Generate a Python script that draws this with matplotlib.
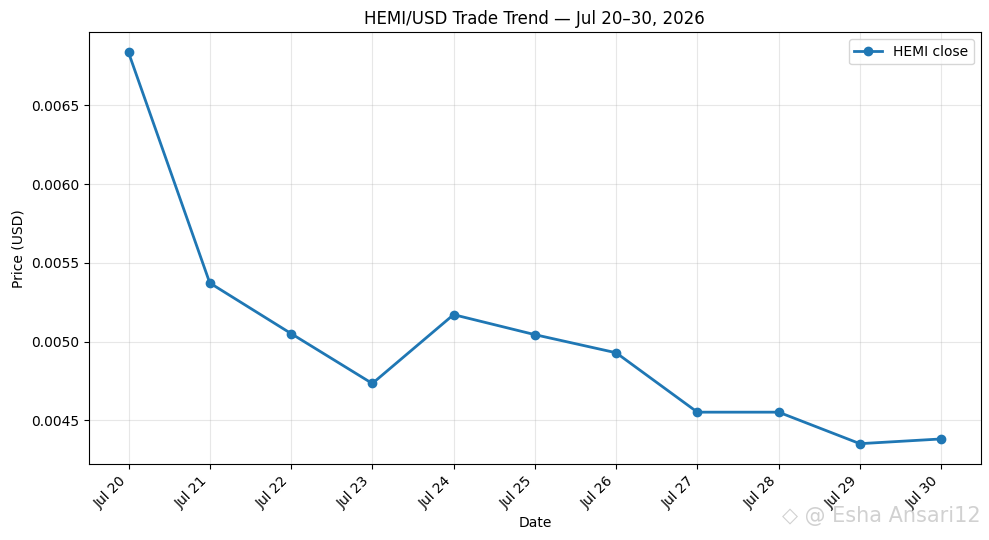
import matplotlib
matplotlib.use("Agg")
import matplotlib.pyplot as plt

# data
dates = ["Jul 20", "Jul 21", "Jul 22", "Jul 23", "Jul 24", "Jul 25",
         "Jul 26", "Jul 27", "Jul 28", "Jul 29", "Jul 30"]
close = [0.006835, 0.005372, 0.005051, 0.004734, 0.005171, 0.005044,
         0.004929, 0.004552, 0.004552, 0.004352, 0.004382]

fig = plt.figure(figsize=(9.89, 5.4), dpi=100)
ax = fig.add_axes([88.7 / 989, 1 - 464 / 540, (981 - 88.7) / 989, (464 - 32.3) / 540])

x = list(range(len(dates)))
ax.plot(x, close, marker="o", color="#1f77b4", linewidth=2, markersize=6, label="HEMI close")
ax.set_xticks(x)
ax.set_xticklabels(dates, rotation=45, ha="right")
ax.set_xlim(-0.49, 10.49)
ax.set_ylim(0.004223, 0.006963)
ax.grid(True, alpha=0.3)
ax.set_title("HEMI/USD Trade Trend \u2014 Jul 20\u201330, 2026")
ax.set_xlabel("Date")
ax.set_ylabel("Price (USD)")
ax.legend(loc="upper right")

# faint watermark in the corner
fig.text(0.992, 0.025, "\u25c7 @ Esha Ansari12", ha="right", va="bottom",
         fontsize=15, color="#cccccc", alpha=0.9)

fig.savefig("out.png", dpi=100)
